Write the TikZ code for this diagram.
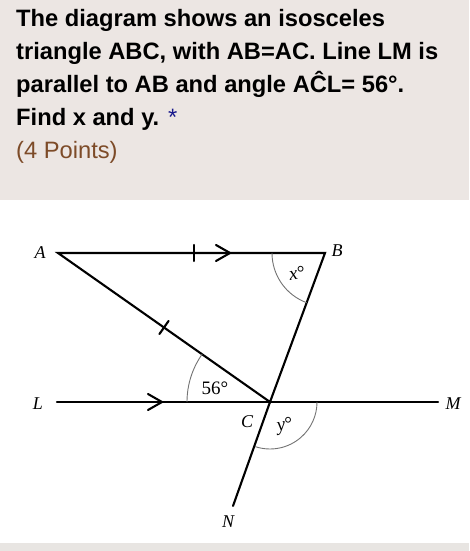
\documentclass[tikz,border=0pt]{standalone}
\usepackage{fontspec}
\usetikzlibrary{calc}
\setmainfont{Liberation Sans}
\newfontfamily\lblfont{Liberation Serif}
\begin{document}
\begin{tikzpicture}[x=1pt,y=1pt,
  seg/.style={line width=2.1pt, line cap=round},
  anglearc/.style={line width=0.9pt, draw=black!55},
  ptlabel/.style={font=\lblfont\itshape\fontsize{18}{18}\selectfont, inner sep=0pt},
  anglabel/.style={font=\lblfont\fontsize{19}{19}\selectfont, inner sep=0pt},
  qline/.style={anchor=base west, inner sep=0pt, font=\bfseries\fontsize{23.7}{25}\selectfont}]
\useasboundingbox (0,0) rectangle (469,551);
\fill[fill={rgb,255:red,236;green,230;blue,227}] (0,351) rectangle (469,551);
\fill[fill={rgb,255:red,232;green,229;blue,226}] (0,0) rectangle (469,8);
% question text
\node[qline] (q1) at (16,524) {The diagram shows an isosceles};
\node[qline] (q2) at (16,491) {triangle ABC, with AB=AC. Line LM is};
\node[qline] (q3) at (16,458) {parallel to AB and angle A\^{C}L= 56°.};
\node[qline] (q4) at (16,425) {Find x and y. \textcolor[rgb]{0.1,0.1,0.55}{\mdseries *}};
\node[qline, font=\fontsize{23.7}{25}\selectfont, text={rgb,255:red,125;green,75;blue,40}] (q5) at (16,392) {(4 Points)};
% points
\coordinate (A) at (58,298);
\coordinate (B) at (325,298);
\coordinate (C) at (270,149);
\coordinate (Lend) at (57,149);
\coordinate (Mend) at (438,149);
\coordinate (N) at (233,45);
% lines
\draw[seg] (A) -- (B) -- (C) -- cycle;
\draw[seg] (Lend) -- (Mend);
\draw[seg] (C) -- (N);
% parallel arrows
\draw[seg, line join=miter] (216,306) -- (230,298) -- (216,290);
\draw[seg, line join=miter] (148,157) -- (162,149) -- (148,141);
% equal ticks
\draw[seg] (194,290) -- (194,306);
\draw[seg] ($(A)!0.5!(C)+(55:8)$) -- ($(A)!0.5!(C)+(235:8)$);
% angle arcs
\draw[anglearc] ([shift={(180:83)}]C) arc (180:144.9:83);
\draw[anglearc] ([shift={(180:53)}]B) arc (180:249.7:53);
\draw[anglearc] ([shift={(251.4:47)}]C) arc (251.4:360:47);
% labels
\node[ptlabel] (lA) at (40,298) {A};
\node[ptlabel] (lB) at (337,300) {B};
\node[ptlabel] (lL) at (38,147) {L};
\node[ptlabel] (lM) at (453,147) {M};
\node[ptlabel] (lC) at (247,129) {C};
\node[ptlabel] (lN) at (228,29) {N};
\node[anglabel, rotate=10] (lx) at (297,278) {\textit{x}°};
\node[anglabel] (l56) at (215,163) {56°};
\node[anglabel, rotate=10] (ly) at (285,125) {\textit{y}°};
\end{tikzpicture}
\end{document}
